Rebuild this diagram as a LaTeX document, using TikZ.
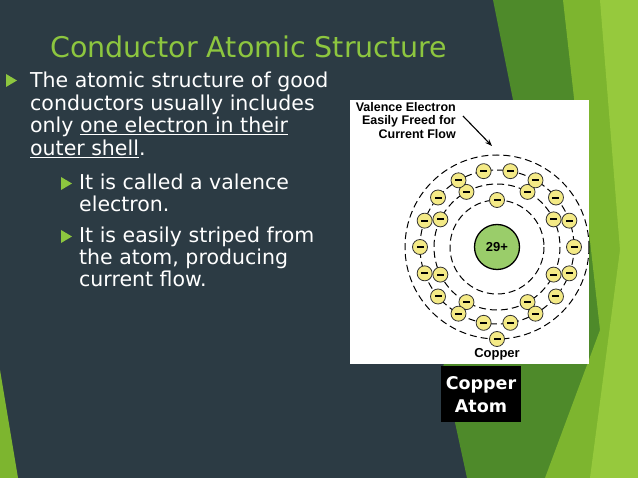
\documentclass[tikz,border=0pt]{standalone}
\usepackage{fontspec}
\setmainfont{DejaVu Sans}
\newfontfamily\labfont{Liberation Sans}
\usetikzlibrary{arrows.meta}
\definecolor{slate}{HTML}{2C3B44}
\definecolor{gA}{HTML}{4E8A2A}
\definecolor{gB}{HTML}{7DB52F}
\definecolor{gC}{HTML}{96C93D}
\definecolor{titleg}{HTML}{8DC63F}
\definecolor{ey}{HTML}{F4EA86}
\definecolor{nuc}{HTML}{9ACD6A}
\tikzset{
 txt/.style={text=white,font=\fontsize{20.5}{22}\selectfont,anchor=base west,inner sep=0},
 bul/.style={fill=titleg,draw=none},
 el/.style={circle,draw=black!80,line width=0.8pt,fill=ey,minimum size=15pt,inner sep=0},
 ring/.style={dashed,dash pattern=on 7pt off 4pt,line width=1pt},
 lab/.style={font=\labfont\bfseries\fontsize{12.5}{13.5}\selectfont,inner sep=0}
}
\newcommand{\elec}[2]{\node[el] at ([shift={(#1:#2)}]ctr) {}; \fill[black] ([shift={(#1:#2)}]ctr) ++(-3.5pt,-1pt) rectangle ++(7pt,2pt);}
\begin{document}
\begin{tikzpicture}[x=1pt,y=-1pt]
\useasboundingbox (0,0) rectangle (638,478);
\fill[slate] (0,0) rectangle (638,478);
\fill[gA] (493,0) -- (638,0) -- (638,478) -- (467,478) -- (443,367) -- (515,110) -- cycle;
\fill[gB] (563,0) -- (638,0) -- (638,478) -- (545,478) -- (600,330) -- cycle;
\fill[gC] (600,0) -- (638,0) -- (638,478) -- (590,478) -- (620,250) -- cycle;
\fill[gB] (0,370) -- (18,478) -- (0,478) -- cycle;
% title
\node[text=titleg,font=\fontsize{28.5}{30}\selectfont,anchor=base west,inner sep=0] (title) at (50,58) {Conductor Atomic Structure};
% bullets
\fill[bul] (6,74) -- (17,80.5) -- (6,87) -- cycle;
\node[txt] (l1) at (30,88) {The atomic structure of good};
\node[txt] (l2) at (30,111) {conductors usually includes};
\node[txt] (l3) at (30,133) {only \underline{one electron in their}};
\node[txt] (l4) at (30,156) {\underline{outer shell}.};
\fill[bul] (61,177) -- (72,183.5) -- (61,190) -- cycle;
\node[txt] (s1) at (79,190) {It is called a valence};
\node[txt] (s2) at (79,212) {electron.};
\fill[bul] (61,230) -- (72,236.5) -- (61,243) -- cycle;
\node[txt] (s3) at (79,243) {It is easily striped from};
\node[txt] (s4) at (79,265) {the atom, producing};
\node[txt] (s5) at (79,287) {current flow.};
% image
\fill[white] (350,100) rectangle (589,364);
\coordinate (ctr) at (497,247);
\foreach \r in {47,63,77,92} \draw[ring] (ctr) circle[radius=\r];
\node[circle,draw=black,line width=1.3pt,fill=nuc,minimum size=45pt,inner sep=0,font=\labfont\bfseries\fontsize{13}{13}\selectfont] (nucleus) at (ctr) {29+};
\elec{270}{47}
\foreach \a in {26,61,119,154,206,241,299,334} {\elec{\a}{63}}
\foreach \a in {0,20,...,340} {\elec{\a}{77}}
\elec{90}{92}
\node[lab,align=right,anchor=north east] (val) at (456,102) {Valence Electron\\Easily Freed for\\Current Flow};
\coordinate (vtip) at (492,146);
\draw[line width=1.1pt,-{Stealth[length=7pt]}] (463,116) -- (vtip);
\node[lab,font=\labfont\bfseries\fontsize{13}{13}\selectfont] (cu) at (497,354) {Copper};
% caption
\fill[black] (441,366) rectangle (521,422);
\node[text=white,align=center,font=\bfseries\fontsize{17.5}{23}\selectfont] (cap) at (481,395) {Copper\\Atom};
\end{tikzpicture}
\end{document}
